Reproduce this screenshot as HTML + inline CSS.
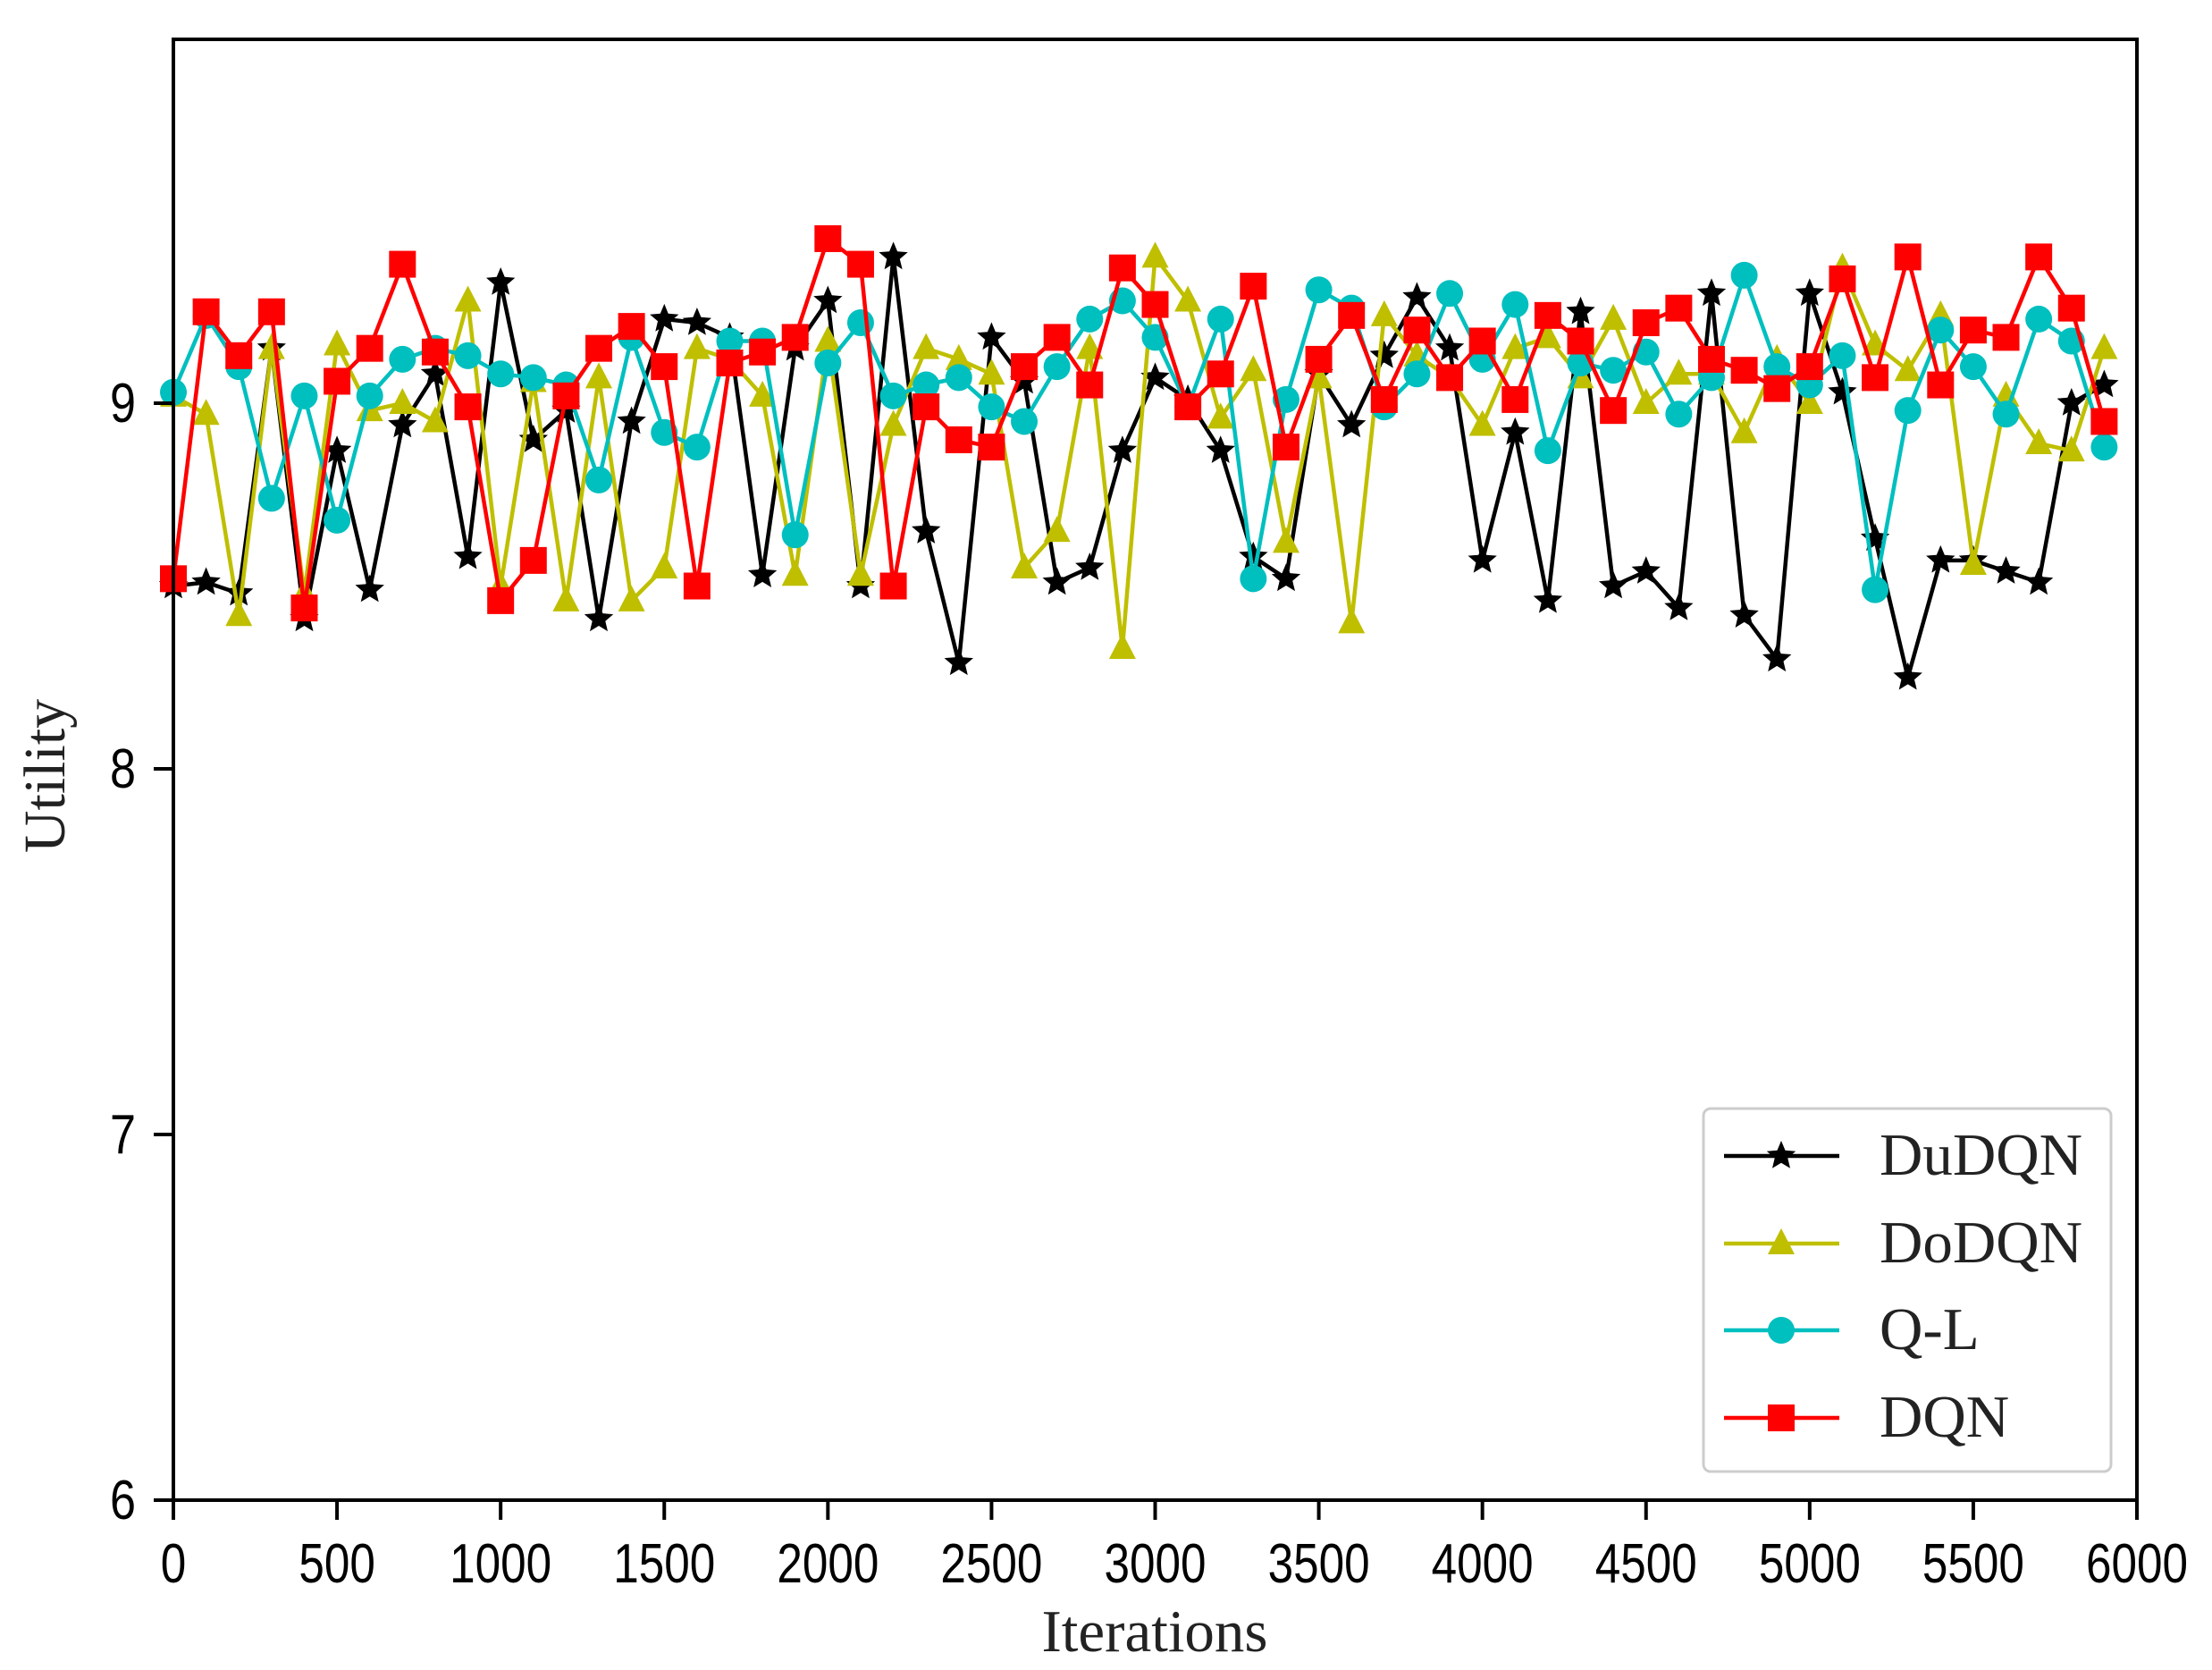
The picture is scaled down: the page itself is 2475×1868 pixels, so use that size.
<!DOCTYPE html>
<html><head><meta charset="utf-8"><style>
html,body{margin:0;padding:0;background:#fff;}
svg{display:block;}
.t{font-family:"Liberation Sans",sans-serif;font-size:62px;fill:#000;}
.s{font-family:"Liberation Serif",serif;fill:#222;}
</style></head><body>
<svg id="c" width="2475" height="1868" viewBox="0 0 2475 1868" xmlns="http://www.w3.org/2000/svg">
<rect width="2475" height="1868" fill="#fff"/>
<g id="data"></g>
<rect x="194" y="44" width="2197" height="1634" fill="none" stroke="#000" stroke-width="4"/>
<g id="ticks" stroke="#000" stroke-width="4"></g>
<g id="tl" class="t"></g>
<text class="s" x="1292" y="1847" font-size="67" text-anchor="middle">Iterations</text>
<text class="s" x="0" y="0" font-size="66" text-anchor="middle" transform="translate(72,868) rotate(-90)">Utility</text>
<rect x="1906" y="1240" width="456" height="406" rx="8" fill="#fff" stroke="#ccc" stroke-width="3"/>
<g id="leg"></g>
<g class="s" font-size="67">
<text x="2103" y="1314">DuDQN</text>
<text x="2103" y="1412">DoDQN</text>
<text x="2103" y="1509">Q-L</text>
<text x="2103" y="1607">DQN</text>
</g>
</svg>
<script>
var du=[8.5,8.51,8.48,9.15,8.41,8.87,8.49,8.94,9.08,8.58,9.33,8.9,8.98,8.41,8.95,9.23,9.22,9.18,8.53,9.15,9.28,8.5,9.4,8.65,8.29,9.18,9.06,8.51,8.55,8.87,9.07,9.01,8.87,8.58,8.52,9.08,8.94,9.13,9.29,9.15,8.57,8.92,8.46,9.25,8.5,8.54,8.44,9.3,8.42,8.3,9.3,9.03,8.63,8.25,8.57,8.57,8.54,8.51,9.0,9.05];
var dd=[9.02,8.97,8.42,9.15,8.48,9.16,8.98,9.0,8.95,9.28,8.5,9.06,8.46,9.07,8.46,8.55,9.15,9.12,9.02,8.53,9.17,8.53,8.94,9.15,9.12,9.08,8.55,8.65,9.15,8.33,9.4,9.28,8.96,9.09,8.62,9.07,8.4,9.24,9.13,9.07,8.94,9.15,9.18,9.07,9.23,9.0,9.08,9.08,8.92,9.12,9.0,9.37,9.16,9.09,9.24,8.56,9.02,8.89,8.87,9.15];
var ql=[9.03,9.24,9.1,8.74,9.02,8.68,9.02,9.12,9.15,9.13,9.08,9.07,9.05,8.79,9.18,8.92,8.88,9.17,9.17,8.64,9.11,9.22,9.02,9.05,9.07,8.99,8.95,9.1,9.23,9.28,9.18,8.99,9.23,8.52,9.01,9.31,9.26,8.99,9.08,9.3,9.12,9.27,8.87,9.11,9.09,9.14,8.97,9.07,9.35,9.1,9.05,9.13,8.49,8.98,9.2,9.1,8.97,9.23,9.17,8.88];
var dq=[8.52,9.25,9.13,9.25,8.44,9.06,9.15,9.38,9.14,8.99,8.46,8.57,9.02,9.15,9.21,9.1,8.5,9.11,9.14,9.18,9.45,9.38,8.5,8.99,8.9,8.88,9.1,9.18,9.05,9.37,9.27,8.99,9.08,9.32,8.88,9.12,9.24,9.01,9.2,9.07,9.17,9.01,9.24,9.17,8.98,9.22,9.26,9.12,9.09,9.04,9.1,9.34,9.07,9.4,9.05,9.2,9.18,9.4,9.26,8.95];
var NS="http://www.w3.org/2000/svg";
function px(i){return 194+i*100*2197/6000;}
function py(v){return 1678-(v-6)*409;}
function el(n,a,p){var e=document.createElementNS(NS,n);for(var k in a)e.setAttribute(k,a[k]);p.appendChild(e);return e;}
var T=document.getElementById("ticks"),TL=document.getElementById("tl");
for(var i=0;i<=12;i++){var x=194+i*2197/12;el("line",{x1:x,y1:1678,x2:x,y2:1700},T);
 var s=String(i*500);var t=el("text",{x:x,y:1770,"text-anchor":"middle",textLength:s.length*28.5,lengthAdjust:"spacingAndGlyphs"},TL);t.textContent=s;}
for(var v=6;v<=9;v++){var y=py(v);el("line",{x1:172,y1:y,x2:194,y2:y},T);
 var t=el("text",{x:152,y:y+21,"text-anchor":"end",textLength:29,lengthAdjust:"spacingAndGlyphs"},TL);t.textContent=String(v);}
function star(x,y,r){var s="";for(var i=0;i<10;i++){var rr=i%2?r*0.45:r;var a=-Math.PI/2+i*Math.PI/5;s+=(x+rr*Math.cos(a)).toFixed(1)+","+(y+rr*Math.sin(a)).toFixed(1)+" ";}return s;}
function marker(t,x,y,c,g){
 if(t=="s")el("rect",{x:x-15,y:y-15,width:30,height:30,fill:c},g);
 else if(t=="o")el("circle",{cx:x,cy:y,r:15,fill:c},g);
 else if(t=="^")el("polygon",{points:x+","+(y-17)+" "+(x+15)+","+(y+12)+" "+(x-15)+","+(y+12),fill:c},g);
 else el("polygon",{points:star(x,y,17),fill:c},g);
}
var series=[[du,"#000","*"],[dd,"#bfbf00","^"],[ql,"#00bfbf","o"],[dq,"#ff0000","s"]];
var g=document.getElementById("data");
series.forEach(function(s){
 var pts=s[0].map(function(v,i){return px(i).toFixed(1)+","+py(v).toFixed(1);}).join(" ");
 el("polyline",{points:pts,fill:"none",stroke:s[1],"stroke-width":4.5,"stroke-linejoin":"round"},g);
 s[0].forEach(function(v,i){marker(s[2],px(i),py(v),s[1],g);});
});
var L=document.getElementById("leg");
var ys=[1293,1391,1488,1586];
series.forEach(function(s,k){
 el("line",{x1:1929,y1:ys[k],x2:2058,y2:ys[k],stroke:s[1],"stroke-width":4.5},L);
 marker(s[2],1993,ys[k],s[1],L);
});
</script>
</body></html>
